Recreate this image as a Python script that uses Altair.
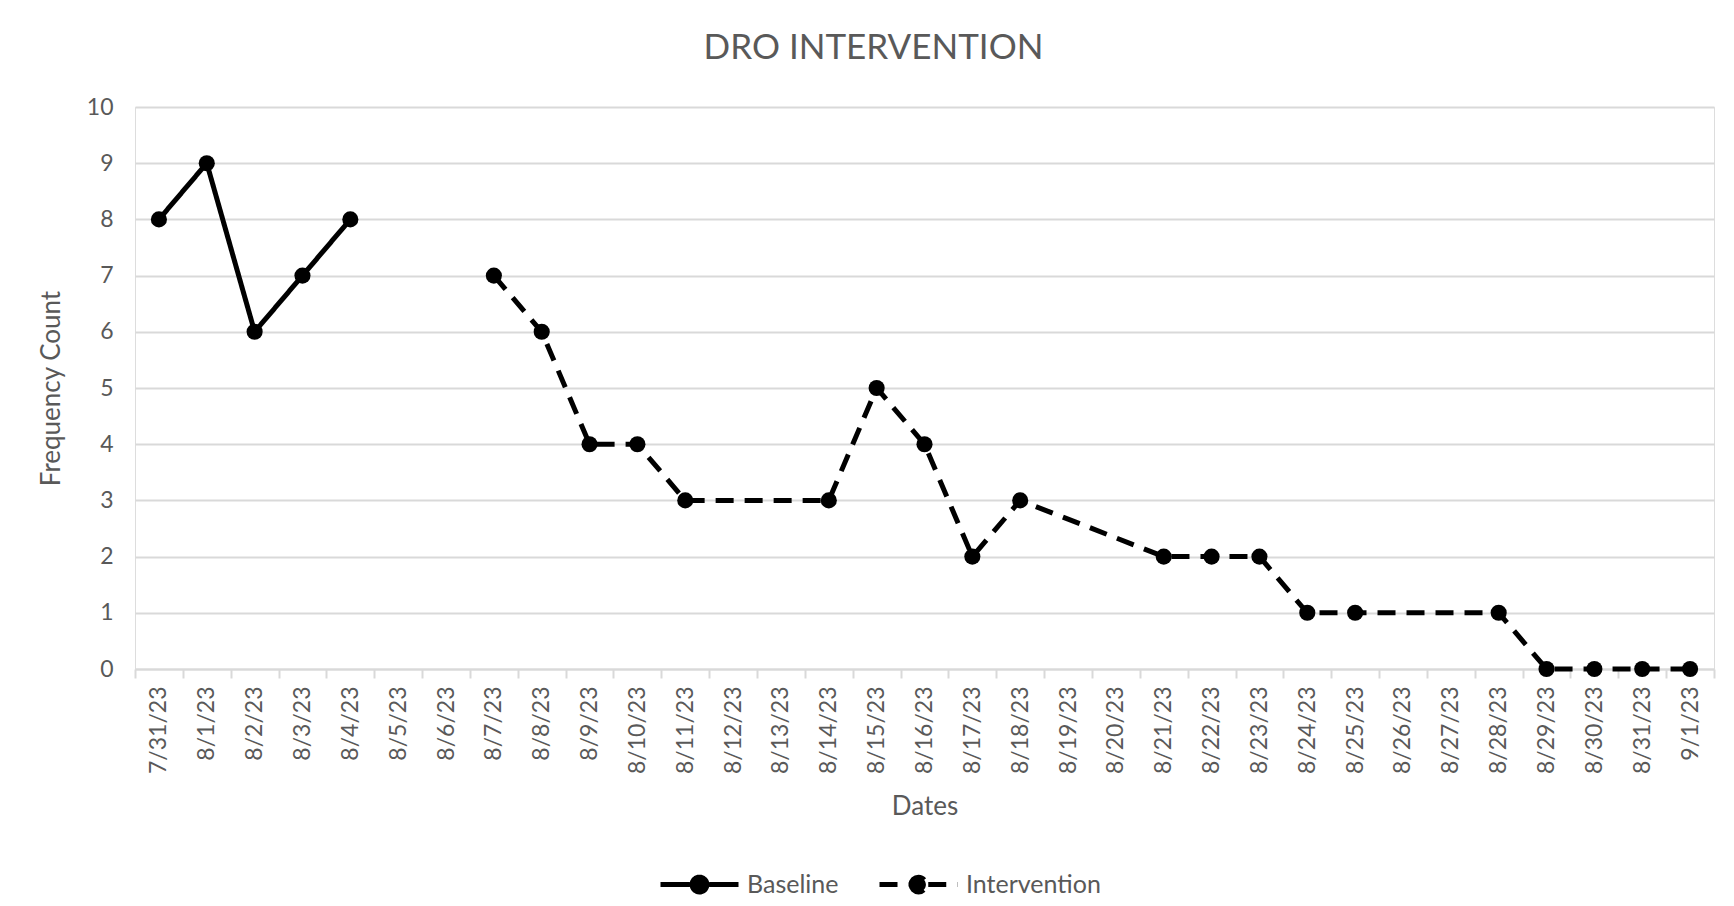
import altair as alt
import pandas as pd

all_dates = ["7/31/23", "8/1/23", "8/2/23", "8/3/23", "8/4/23", "8/5/23", "8/6/23",
             "8/7/23", "8/8/23", "8/9/23", "8/10/23", "8/11/23", "8/12/23", "8/13/23",
             "8/14/23", "8/15/23", "8/16/23", "8/17/23", "8/18/23", "8/19/23", "8/20/23",
             "8/21/23", "8/22/23", "8/23/23", "8/24/23", "8/25/23", "8/26/23", "8/27/23",
             "8/28/23", "8/29/23", "8/30/23", "8/31/23", "9/1/23"]

baseline_dates = ["7/31/23", "8/1/23", "8/2/23", "8/3/23", "8/4/23"]
baseline_values = [8, 9, 6, 7, 8]

intervention_dates = ["8/7/23", "8/8/23", "8/9/23", "8/10/23", "8/11/23", "8/14/23",
                      "8/15/23", "8/16/23", "8/17/23", "8/18/23", "8/21/23", "8/22/23",
                      "8/23/23", "8/24/23", "8/25/23", "8/28/23", "8/29/23", "8/30/23",
                      "8/31/23", "9/1/23"]
intervention_values = [7, 6, 4, 4, 3, 3, 5, 4, 2, 3, 2, 2, 2, 1, 1, 1, 0, 0, 0, 0]

series = ["Baseline", "Intervention"]

rows = []
for d, v in zip(baseline_dates, baseline_values):
    rows.append({"date": d, "value": v, "phase": "Baseline", "order": all_dates.index(d)})
for d, v in zip(intervention_dates, intervention_values):
    rows.append({"date": d, "value": v, "phase": "Intervention", "order": all_dates.index(d)})
df = pd.DataFrame(rows)

FONT = "Lato"
GRAY = "#595959"
LINE_GRAY = "#d9d9d9"

legend_path = ("M-1,0L-0.25,0M0.25,0L1,0M-0.19,0A0.19,0.19,0,1,1,0.19,0"
               "A0.19,0.19,0,1,1,-0.19,0Z")

x_enc = alt.X(
    "date:N",
    sort=all_dates,
    scale=alt.Scale(domain=all_dates, type="band", paddingInner=0, paddingOuter=0),
    bandPosition=0.5,
    title="Dates",
    axis=alt.Axis(
        labelAngle=-90,
        labelFontSize=23,
        labelColor=GRAY,
        labelFont=FONT,
        labelPadding=8,
        tickBand="extent",
        ticks=True,
        tickColor=LINE_GRAY,
        tickWidth=2,
        tickSize=9,
        domainColor=LINE_GRAY,
        domainWidth=2,
        grid=False,
        titleFontSize=26,
        titleFont=FONT,
        titleColor=GRAY,
        titleFontWeight="normal",
        titlePadding=20,
    ),
)
y_enc = alt.Y(
    "value:Q",
    scale=alt.Scale(domain=[0, 10]),
    title="Frequency Count",
    axis=alt.Axis(
        values=list(range(0, 11)),
        labelFontSize=23,
        labelColor=GRAY,
        labelFont=FONT,
        labelPadding=22,
        ticks=False,
        domain=False,
        grid=True,
        gridColor=LINE_GRAY,
        gridWidth=2,
        titleFontSize=26,
        titleFont=FONT,
        titleColor=GRAY,
        titleFontWeight="normal",
        titlePadding=22,
    ),
)

dash_scale = alt.Scale(domain=series, range=[[1, 0], [18, 11]])

line = alt.Chart(df).mark_line(color="black", strokeWidth=5).encode(
    x=x_enc,
    y=y_enc,
    order="order:Q",
    strokeDash=alt.StrokeDash(
        "phase:N",
        scale=dash_scale,
        legend=alt.Legend(
            title=None,
            orient="none",
            direction="horizontal",
            legendX=523,
            legendY=736,
            symbolType=legend_path,
            symbolSize=6084,
            symbolStrokeWidth=5,
            symbolStrokeColor="black",
            symbolFillColor="black",
            labelFontSize=25,
            labelFont=FONT,
            labelColor=GRAY,
            columnPadding=30,
            labelOffset=6,
        ),
    ),
)

points = alt.Chart(df).mark_circle(color="black", size=260, opacity=1).encode(
    x=x_enc,
    y=y_enc,
    detail="phase:N",
)

chart = alt.layer(line, points).properties(
    width=1579,
    height=562,
    padding={"left": 30, "top": 23, "right": 5, "bottom": 5},
    title=alt.TitleParams(
        "DRO INTERVENTION",
        fontSize=35,
        font=FONT,
        color=GRAY,
        fontWeight="normal",
        anchor="middle",
        offset=30,
        dx=-51,
    ),
).configure_view(strokeWidth=0).configure(background="white")

chart.save("out.html", embed_options={"renderer": "svg", "actions": False})
